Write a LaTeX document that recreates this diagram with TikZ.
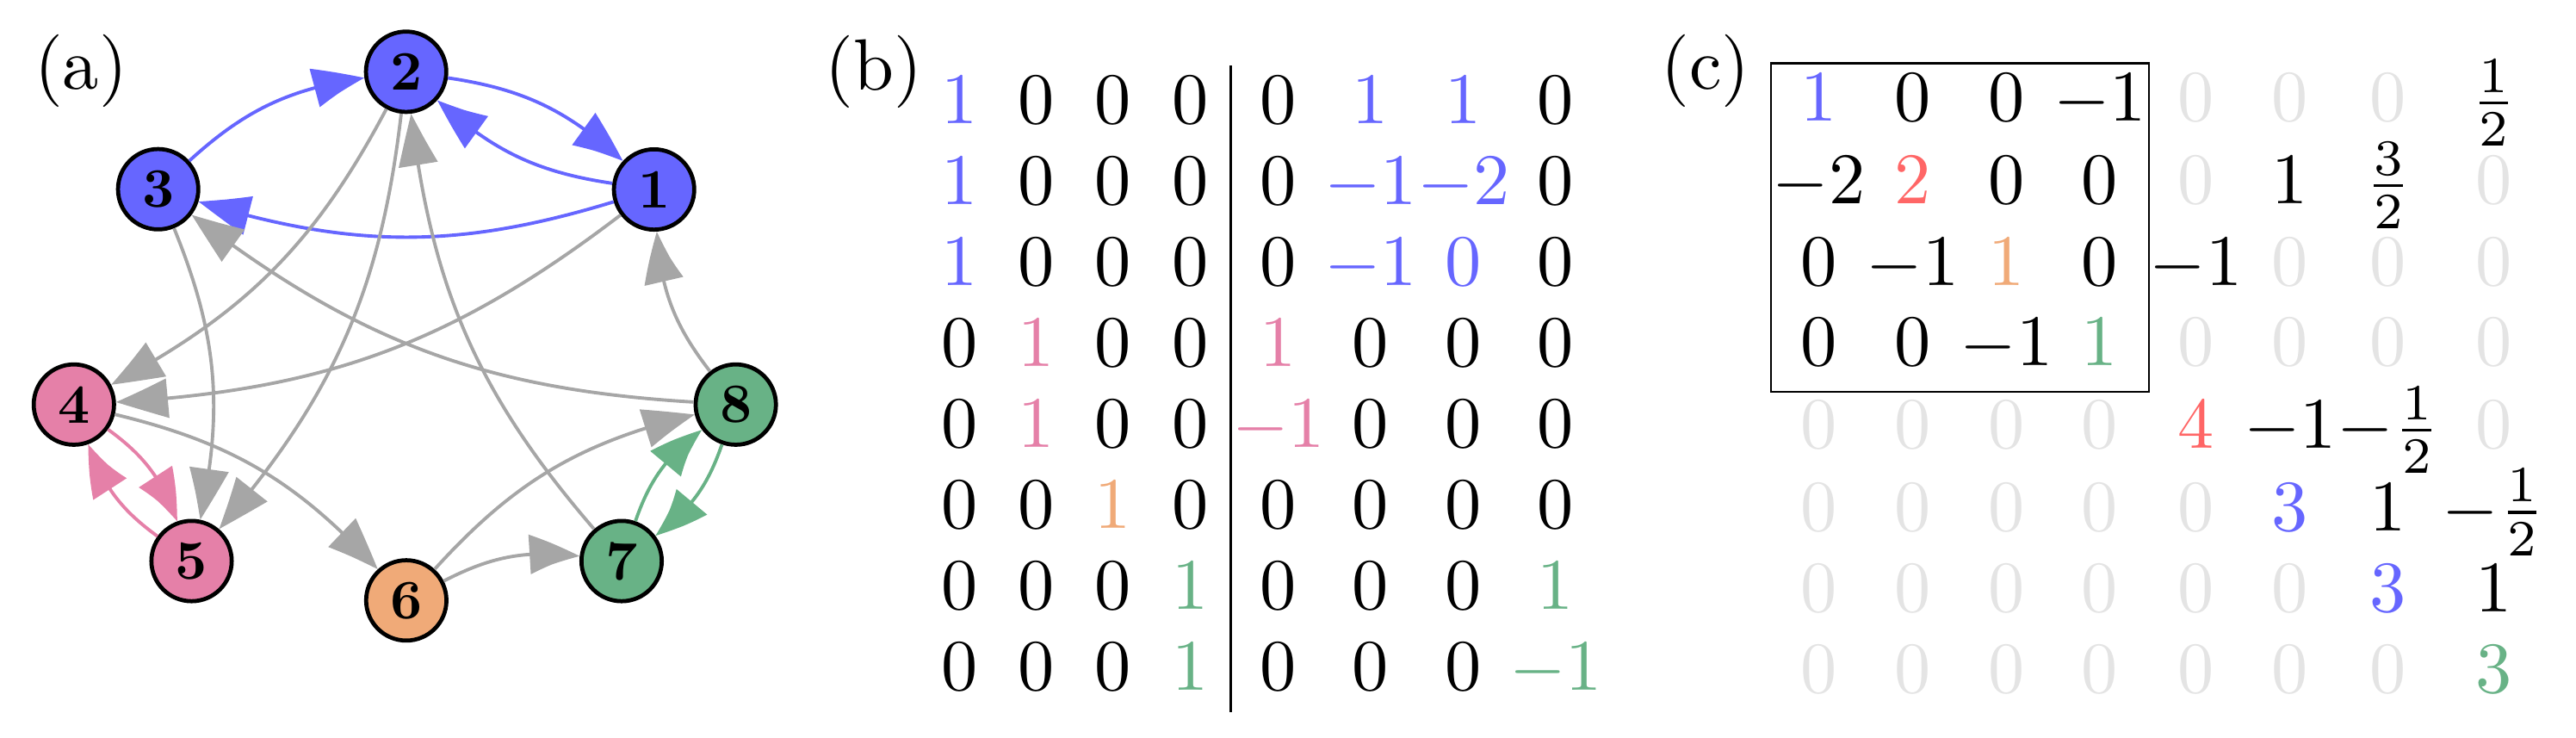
\RequirePackage{fix-cm}
\documentclass[tikz,border=0pt]{standalone}
\usepackage{amsmath}
\usetikzlibrary{arrows.meta, bending}
\definecolor{color1}{RGB}{102,102,255}
\definecolor{color2}{RGB}{229,128,168}
\definecolor{color3}{RGB}{240,170,120}
\definecolor{color4}{RGB}{104,178,134}
\definecolor{color5}{RGB}{255,102,102}
\definecolor{color6}{RGB}{166,166,166}
\definecolor{color7}{RGB}{228,228,228}

\tikzset{
    vertex/.style={circle, draw=black, line width=1.35pt, minimum size=0.507cm, inner sep=0pt, outer sep=0.37pt, scale=1.84, transform shape, font=\bfseries},
    link/.style={line width=1.1pt, draw=#1, -{Stealth[inset=0pt, length=6.1mm, width=4.5mm, bend]}, bend left=17},
    link/.default=color6,
    entry/.style={anchor=base, inner sep=0pt, scale=2.4, transform shape},
    panel/.style={scale=2.4, transform shape}
}

\begin{document}
\begin{tikzpicture}
                \useasboundingbox (0,0) rectangle (29.92,-8.56);

                % (a) graph
                \node[panel] (la) at (0.94,-0.82) {(a)};
                \node[vertex, fill=color1] (n1) at (7.597,-2.200) {1};
                \node[vertex, fill=color1] (n2) at (4.717,-0.833) {2};
                \node[vertex, fill=color1] (n3) at (1.837,-2.197) {3};
                \node[vertex, fill=color2] (n4) at (0.858,-4.698) {4};
                \node[vertex, fill=color2] (n5) at (2.225,-6.515) {5};
                \node[vertex, fill=color3] (n6) at (4.719,-6.972) {6};
                \node[vertex, fill=color4] (n7) at (7.220,-6.515) {7};
                \node[vertex, fill=color4] (n8) at (8.546,-4.698) {8};

                \draw[link=color1] (n3) to (n2);
                \draw[link=color1] (n2) to (n1);
                \draw[link=color1] (n1) to (n2);
                \draw[link=color1] (n1) to (n3);
                \draw[link=color2] (n4) to (n5);
                \draw[link=color2] (n5) to (n4);
                \draw[link=color4] (n7) to (n8);
                \draw[link=color4] (n8) to (n7);
                \foreach \a/\b in {2/4, 2/5, 7/2, 3/5, 8/3, 1/4, 8/1, 4/6, 6/7, 6/8}
                \draw[link] (n\a) to (n\b);

                % (b) matrix
                \node[panel] (lb) at (10.15,-0.83) {(b)};
                \foreach \x [count=\c] in {11.15,12.04,12.93,13.83,14.85,15.92,17.00,18.07}
                \coordinate (bcol\c) at (\x,0);
                \foreach \y [count=\r] in {-1.433,-2.373,-3.313,-4.253,-5.193,-6.133,-7.073,-8.013}
                \coordinate (brow\r) at (0,\y);

                \foreach \v/\k [count=\c] in {1/color1, 0/black, 0/black, 0/black, 0/black, 1/color1, 1/color1, 0/black}
                \node[entry, text=\k] (b1\c) at (bcol\c |- brow1) {$\v$};
                \foreach \v/\k [count=\c] in {1/color1, 0/black, 0/black, 0/black, 0/black, -1/color1, -2/color1, 0/black}
                \node[entry, text=\k] (b2\c) at (bcol\c |- brow2) {$\v$};
                \foreach \v/\k [count=\c] in {1/color1, 0/black, 0/black, 0/black, 0/black, -1/color1, 0/color1, 0/black}
                \node[entry, text=\k] (b3\c) at (bcol\c |- brow3) {$\v$};
                \foreach \v/\k [count=\c] in {0/black, 1/color2, 0/black, 0/black, 1/color2, 0/black, 0/black, 0/black}
                \node[entry, text=\k] (b4\c) at (bcol\c |- brow4) {$\v$};
                \foreach \v/\k [count=\c] in {0/black, 1/color2, 0/black, 0/black, -1/color2, 0/black, 0/black, 0/black}
                \node[entry, text=\k] (b5\c) at (bcol\c |- brow5) {$\v$};
                \foreach \v/\k [count=\c] in {0/black, 0/black, 1/color3, 0/black, 0/black, 0/black, 0/black, 0/black}
                \node[entry, text=\k] (b6\c) at (bcol\c |- brow6) {$\v$};
                \foreach \v/\k [count=\c] in {0/black, 0/black, 0/black, 1/color4, 0/black, 0/black, 0/black, 1/color4}
                \node[entry, text=\k] (b7\c) at (bcol\c |- brow7) {$\v$};
                \foreach \v/\k [count=\c] in {0/black, 0/black, 0/black, 1/color4, 0/black, 0/black, 0/black, -1/color4}
                \node[entry, text=\k] (b8\c) at (bcol\c |- brow8) {$\v$};

                \draw[line width=0.85pt] (14.295,-0.76) -- (14.295,-8.27);

                % (c) matrix
                \node[panel] (lc) at (19.81,-0.82) {(c)};
                \foreach \x [count=\c] in {21.127,22.217,23.307,24.39,25.506,26.60,27.74,28.965}
                \coordinate (ccol\c) at (\x,0);
                \foreach \y [count=\r] in {-1.405,-2.367,-3.31,-4.245,-5.203,-6.16,-7.103,-8.047}
                \coordinate (crow\r) at (0,\y);

                \foreach \v/\k [count=\c] in {1/color1, 0/black, 0/black, -1/black, 0/color7, 0/color7, 0/color7, \frac{1}{2}/black}
                \node[entry, text=\k] (c1\c) at (ccol\c |- crow1) {$\v$};
                \foreach \v/\k [count=\c] in {-2/black, 2/color5, 0/black, 0/black, 0/color7, 1/black, \frac{3}{2}/black, 0/color7}
                \node[entry, text=\k] (c2\c) at (ccol\c |- crow2) {$\v$};
                \foreach \v/\k [count=\c] in {0/black, -1/black, 1/color3, 0/black, -1/black, 0/color7, 0/color7, 0/color7}
                \node[entry, text=\k] (c3\c) at (ccol\c |- crow3) {$\v$};
                \foreach \v/\k [count=\c] in {0/black, 0/black, -1/black, 1/color4, 0/color7, 0/color7, 0/color7, 0/color7}
                \node[entry, text=\k] (c4\c) at (ccol\c |- crow4) {$\v$};
                \foreach \v/\k [count=\c] in {0/color7, 0/color7, 0/color7, 0/color7, 4/color5, -1/black, -\frac{1}{2}/black, 0/color7}
                \node[entry, text=\k] (c5\c) at (ccol\c |- crow5) {$\v$};
                \foreach \v/\k [count=\c] in {0/color7, 0/color7, 0/color7, 0/color7, 0/color7, 3/color1, 1/black, -\frac{1}{2}/black}
                \node[entry, text=\k] (c6\c) at (ccol\c |- crow6) {$\v$};
                \foreach \v/\k [count=\c] in {0/color7, 0/color7, 0/color7, 0/color7, 0/color7, 0/color7, 3/color1, 1/black}
                \node[entry, text=\k] (c7\c) at (ccol\c |- crow7) {$\v$};
                \foreach \v/\k [count=\c] in {0/color7, 0/color7, 0/color7, 0/color7, 0/color7, 0/color7, 0/color7, 3/color4}
                \node[entry, text=\k] (c8\c) at (ccol\c |- crow8) {$\v$};

                \draw[line width=0.8pt] (20.57,-0.735) rectangle (24.96,-4.55);

            \end{tikzpicture}
\end{document}
